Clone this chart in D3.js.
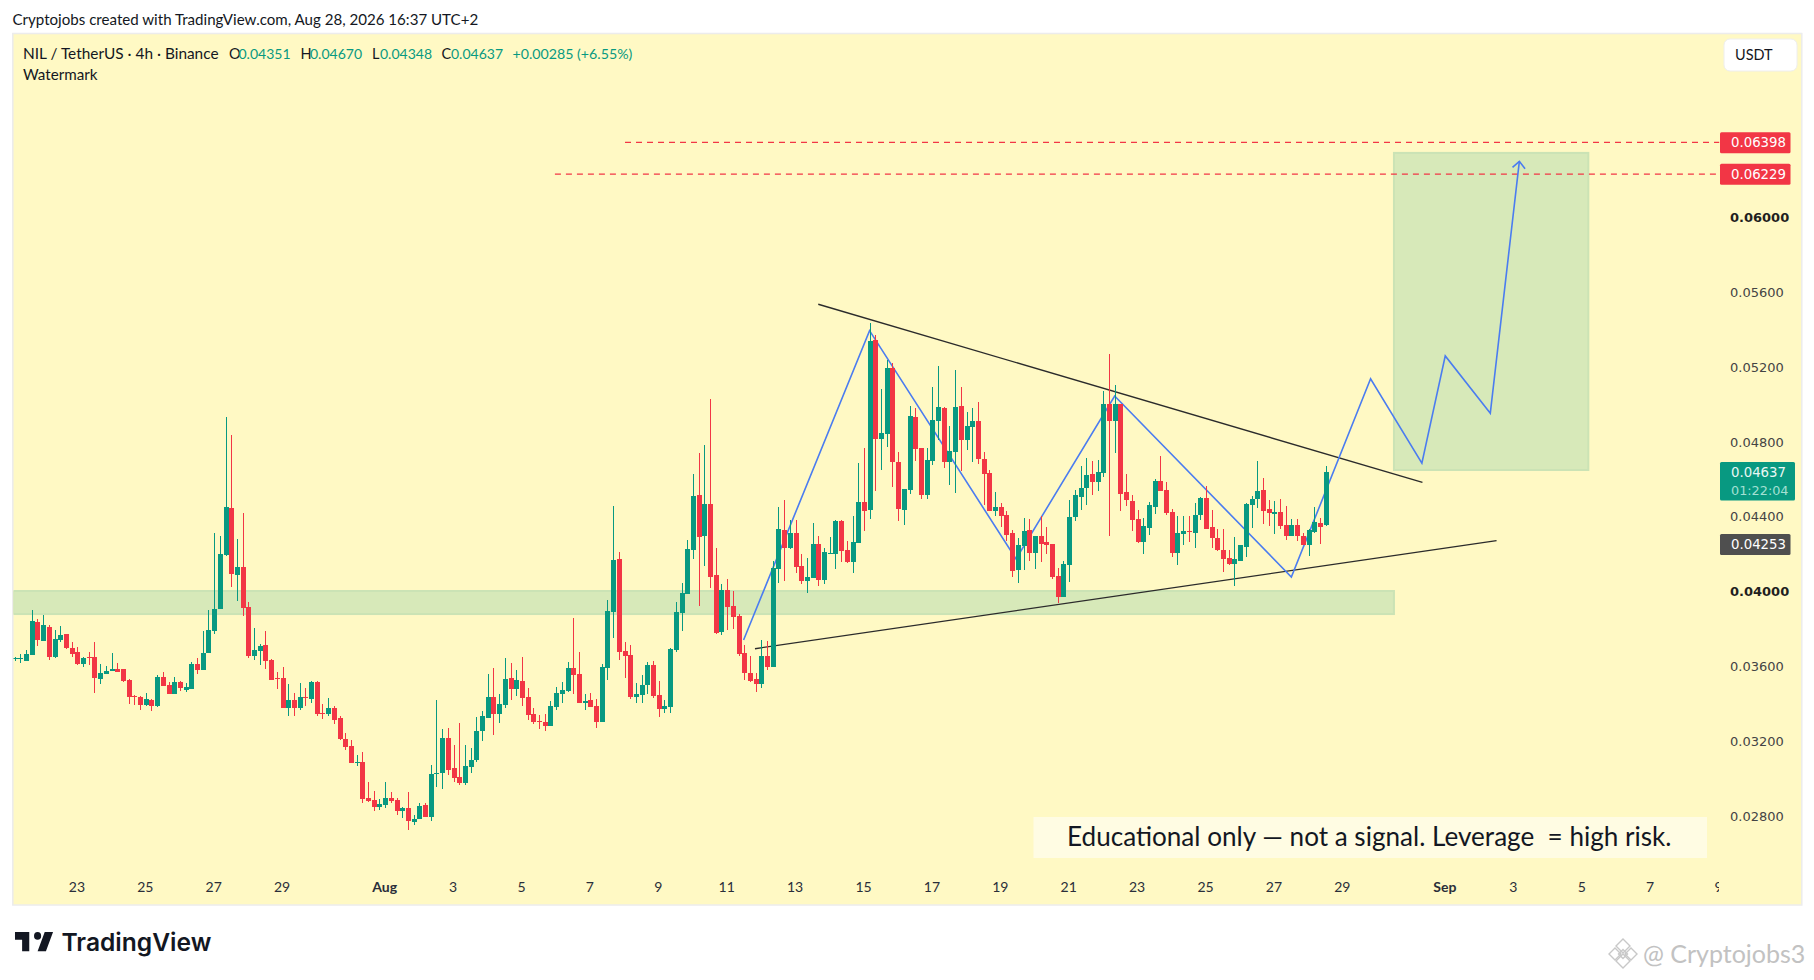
<!DOCTYPE html>
<html>
<head>
<meta charset="utf-8">
<title>NIL / TetherUS</title>
<script src="https://cdn.jsdelivr.net/npm/d3@7"></script>
<style>
html,body{margin:0;padding:0;background:#fff;}
svg{display:block;}
text{white-space:pre;}
</style>
</head>
<body>
<svg id="c" width="1814" height="980"></svg>
<script>
// Prices are listed in units of 0.00001 USDT
const opens = [
3639,3639,3628,3660,3835,3735,3808,3649,3738,3770,
3696,3674,3612,3648,3648,3532,3559,3573,3584,3584,
3525,3439,3434,3393,3418,3388,3541,3498,3452,3514,
3473,3479,3610,3580,3671,3788,3902,4192,4443,4087,
4128,3915,3655,3681,3712,3632,3535,3535,3377,3418,
3377,3434,3425,3514,3349,3345,3375,3322,3210,3172,
3083,3087,2895,2884,2848,2859,2895,2884,2827,2841,
2768,2784,2857,2795,3025,3030,3215,3055,3007,2973,
3060,3098,3252,3322,3434,3343,3391,3535,3477,3519,
3434,3343,3306,3300,3279,3381,3450,3466,3589,3557,
3404,3418,3386,3300,3591,3888,4171,3680,3658,3434,
3445,3498,3605,3445,3370,3381,3685,3883,3984,4219,
4513,4294,4465,4085,3781,4005,3920,3867,3669,3562,
3530,3503,3653,3594,4118,4326,4230,4310,4134,4053,
4069,4251,4059,4198,4198,4374,4219,4155,4256,4475,
4433,5340,4812,4838,5191,4689,4433,4539,4929,4764,
4513,4694,4908,4977,4689,4742,4988,4806,4876,4908,
4705,4630,4427,4449,4406,4310,4112,4240,4326,4203,
4294,4262,4251,4080,3968,4139,4395,4502,4550,4625,
4582,4630,4999,4908,4999,4529,4481,4385,4262,4336,
4449,4587,4539,4422,4203,4304,4320,4310,4406,4497,
4342,4283,4219,4176,4144,4160,4235,4459,4491,4539,
4438,4411,4422,4352,4294,4353,4294,4246,4315,4363,
4351];
const closes = [
3644,3642,3664,3840,3740,3819,3649,3744,3765,3697,
3665,3612,3644,3644,3537,3562,3573,3584,3569,3521,
3436,3436,3393,3423,3388,3541,3495,3452,3514,3482,
3487,3610,3580,3669,3792,3904,4198,4449,4093,4128,
3911,3655,3685,3706,3628,3527,3532,3377,3418,3377,
3434,3430,3514,3345,3345,3375,3313,3212,3169,3083,
3089,2891,2880,2848,2863,2895,2880,2827,2841,2774,
2782,2852,2795,3023,3028,3215,3046,3001,2973,3066,
3098,3252,3333,3434,3343,3397,3530,3477,3525,3430,
3338,3300,3300,3279,3386,3455,3471,3589,3552,3404,
3413,3381,3300,3594,3893,4166,3676,3655,3434,3450,
3498,3605,3439,3370,3386,3690,3888,3989,4224,4507,
4288,4465,4077,3776,4005,3915,3861,3664,3562,3519,
3503,3653,3594,4123,4331,4230,4310,4128,4053,4075,
4251,4059,4208,4203,4374,4214,4155,4262,4475,4427,
5335,4812,4842,5191,4689,4438,4545,4935,4758,4513,
4700,4913,4983,4689,4748,4983,4806,4881,4908,4705,
4625,4427,4449,4401,4299,4107,4246,4320,4203,4294,
4251,4246,4075,3968,4144,4395,4513,4550,4620,4582,
4636,4999,4908,4999,4518,4486,4379,4262,4347,4459,
4587,4534,4417,4203,4310,4320,4315,4406,4497,4331,
4283,4219,4171,4144,4171,4246,4465,4491,4534,4427,
4417,4422,4347,4294,4353,4294,4246,4326,4369,4342,
4637];
const highs = [
3649,3664,3685,3899,3851,3872,3819,3792,3813,3770,
3728,3701,3649,3674,3728,3610,3600,3669,3616,3584,
3528,3445,3439,3455,3423,3552,3568,3514,3541,3519,
3509,3621,3642,3786,3899,4310,4294,4929,4833,4278,
4417,3941,3802,3717,3786,3637,3568,3594,3503,3455,
3509,3482,3519,3519,3397,3429,3386,3333,3242,3204,
3124,3140,2980,2932,2889,2980,2927,2895,2848,2927,
2804,2868,2868,3071,3418,3263,3268,3178,3295,3178,
3162,3327,3359,3557,3589,3450,3642,3616,3578,3648,
3482,3375,3338,3343,3413,3487,3514,3621,3856,3674,
3450,3455,3423,3610,3952,4454,4208,3728,3712,3509,
3552,3621,3626,3519,3418,3696,3941,4043,4272,4625,
4737,4780,5025,4230,4037,4064,4000,3877,3712,3653,
3562,3738,3733,4160,4449,4486,4379,4379,4198,4176,
4363,4294,4228,4288,4379,4379,4267,4401,4684,4764,
5431,5367,5079,5234,5218,4742,4545,4988,4977,4764,
4764,5089,5202,4983,4881,5180,5089,4956,4977,5009,
4742,4646,4529,4470,4427,4326,4283,4390,4385,4294,
4401,4342,4251,4123,4160,4486,4539,4668,4710,4694,
4700,5068,5266,5100,4999,4625,4513,4433,4390,4475,
4598,4721,4582,4438,4401,4401,4401,4470,4502,4561,
4433,4331,4331,4219,4288,4246,4470,4507,4694,4603,
4486,4481,4491,4454,4385,4385,4310,4331,4449,4390,
4670];
const lows = [
3628,3617,3628,3660,3708,3735,3633,3644,3730,3692,
3649,3607,3596,3607,3457,3505,3559,3573,3569,3516,
3398,3393,3366,3388,3361,3382,3495,3452,3452,3468,
3463,3479,3559,3580,3671,3772,3902,4189,4023,3948,
3868,3644,3633,3607,3585,3527,3479,3377,3334,3334,
3366,3388,3404,3334,3318,3334,3292,3206,3153,3083,
3067,2870,2875,2827,2832,2843,2870,2806,2790,2726,
2752,2784,2795,2774,2955,2944,3019,2982,2964,2964,
3028,3087,3199,3322,3231,3295,3375,3418,3439,3386,
3311,3290,3263,3252,3279,3365,3402,3461,3450,3404,
3365,3381,3268,3300,3525,3749,3632,3535,3423,3402,
3402,3450,3429,3327,3349,3349,3674,3786,3984,4171,
3920,4134,4016,3770,3765,3792,3797,3653,3525,3514,
3461,3482,3578,3594,4043,4053,4224,4096,4037,3989,
4069,4027,4037,4198,4118,4155,4150,4096,4256,4320,
4385,4534,4646,4769,4555,4374,4353,4518,4694,4491,
4491,4673,4806,4657,4566,4523,4641,4753,4689,4678,
4459,4427,4401,4342,4267,4075,4043,4112,4160,4118,
4155,4198,4064,3936,3968,4048,4374,4433,4459,4513,
4534,4609,4294,4737,4427,4454,4320,4256,4198,4299,
4411,4534,4406,4182,4139,4246,4262,4230,4379,4331,
4230,4214,4102,4139,4027,4160,4182,4336,4443,4358,
4347,4304,4331,4272,4294,4267,4246,4187,4310,4251,
4348];

// Axis ticks
const priceTicks = [0.028,0.032,0.036,0.040,0.044,0.048,0.052,0.056,0.060];
const boldPrices = [0.040,0.060];
const dayTicks = [[6,23],[6,25],[6,27],[6,29],[7,1],[7,3],[7,5],[7,7],[7,9],[7,11],[7,13],[7,15],[7,17],[7,19],[7,21],[7,23],[7,25],[7,27],[7,29],[8,1],[8,3],[8,5],[8,7],[8,9]];

// Drawings: [candle index, price]
const pathBars   = [127.8,149.9,175.6,192.9,223.9,237.8,246.8,250.9,258.8,263.9];
const pathPrices = [0.03738,0.05390,0.04171,0.05041,0.04075,0.05133,0.04683,0.05255,0.04949,0.06294];
const arrowBars   = [262.7,263.9,264.9];
const arrowPrices = [0.06262,0.06294,0.06255];
const upperBars = [140.9,246.9],  upperPrices = [0.05531,0.04580];
const lowerBars = [129.8,259.9],  lowerPrices = [0.03692,0.04269];
const targetLevels = [0.06398,0.06229];
const targetStarts = [107,94.7];
const levelEndBar = 299;
const boxBars = [241.9,276.0], boxPrices = [0.06339,0.04646];
const bandBars = [-0.35,241.9], bandPrices = [0.04000,0.03877];

const lastPrice = 0.04637, countdown = "01:22:04", markPrice = 0.04253;
const creditText = "Cryptojobs created with TradingView.com, Aug 28, 2026 16:37 UTC+2";
const noteText = "Educational only \u2014 not a signal. Leverage  = high risk.";

const GREEN="#089981", RED="#F23645", BG="#FFF9C4", ZONE="#D7E9B9", ZONEB="#CBE3B5";
const SANS="Lato, 'Noto Sans', sans-serif", AX="'DejaVu Sans', sans-serif";

const svg = d3.select("#c");
const H4 = 4*3600*1000;
const firstBar = Date.UTC(2026,6,21,5);
const barDate = i => new Date(firstBar + i*H4);

const x = d3.scaleUtc()
  .domain([new Date(Date.UTC(2026,6,23)), new Date(Date.UTC(2026,8,9))])
  .range([76.4, 76.4+48*34.2]);
const y = d3.scaleLinear().domain([0.04,0.06]).range([591,216.4]);
const px = i => x(barDate(i));
const pp = v => y(v/1e5);

// Panel
svg.append("rect").attr("x",12.8).attr("y",33.5).attr("width",1789).attr("height",871.5)
  .attr("fill",BG).attr("stroke","#ececec").attr("stroke-width",1.5);

// Zones
function zone(bars,prices,sel){
  sel.append("rect")
    .attr("x",px(bars[0])).attr("y",y(prices[0]))
    .attr("width",px(bars[1])-px(bars[0])).attr("height",y(prices[1])-y(prices[0]))
    .attr("fill",ZONE).attr("stroke",ZONEB).attr("stroke-width",2);
}
const clip = svg.append("defs").append("clipPath").attr("id","pane").append("rect")
  .attr("x",13.5).attr("y",34).attr("width",1706).attr("height",870);
const pane = svg.append("g").attr("clip-path","url(#pane)");
zone(bandBars,bandPrices,pane);
zone(boxBars,boxPrices,pane);

// Target levels
targetLevels.forEach((v,k)=>{
  pane.append("line")
    .attr("x1",px(targetStarts[k])).attr("x2",px(levelEndBar))
    .attr("y1",y(v)+0.6).attr("y2",y(v)+0.6)
    .attr("stroke",RED).attr("stroke-width",1.2).attr("stroke-dasharray","6,5");
});

// Drawings
const ln = d3.line().x(d=>px(d[0])).y(d=>y(d[1]));
const zip=(a,b)=>a.map((v,i)=>[v,b[i]]);
[[upperBars,upperPrices],[lowerBars,lowerPrices]].forEach(([a,b])=>{
  pane.append("path").attr("d",ln(zip(a,b))).attr("fill","none")
    .attr("stroke","#2b2b2b").attr("stroke-width",1.4);
});
pane.append("path").attr("d",ln(zip(pathBars,pathPrices))).attr("fill","none")
  .attr("stroke","#4a7cf0").attr("stroke-width",1.6).attr("stroke-linejoin","miter");
pane.append("path").attr("d",ln(zip(arrowBars,arrowPrices))).attr("fill","none")
  .attr("stroke","#4a7cf0").attr("stroke-width",1.6);

// Candles
const bars = opens.map((o,i)=>({i,o,c:closes[i],h:highs[i],l:lows[i]}));
const cg = pane.append("g").attr("shape-rendering","crispEdges");
const col = d=>d.c>=d.o?GREEN:RED;
cg.selectAll("rect.w").data(bars).join("rect").attr("class","w")
  .attr("x",d=>Math.round(px(d.i)-0.5)).attr("width",1)
  .attr("y",d=>pp(d.h)).attr("height",d=>pp(d.l)-pp(d.h))
  .attr("fill",col);
cg.selectAll("rect.b").data(bars).join("rect").attr("class","b")
  .attr("x",d=>Math.round(px(d.i)-0.5)-2).attr("width",5)
  .attr("y",d=>Math.round(pp(Math.max(d.o,d.c))))
  .attr("height",d=>Math.max(1,Math.round(pp(Math.min(d.o,d.c)))-Math.round(pp(Math.max(d.o,d.c)))))
  .attr("fill",col);

// Note box
svg.append("rect").attr("x",1033.5).attr("y",817).attr("width",673.5).attr("height",41).attr("fill","#FFFCE3");
svg.append("text").attr("x",1067).attr("y",846).attr("font-family",SANS).attr("font-size",26.1)
  .attr("fill","#131722").text(noteText);

// Price axis
const yAxis = d3.axisRight(y).tickValues(priceTicks).tickSize(0).tickPadding(0).tickFormat(d3.format(".5f"));
const yg = svg.append("g").attr("transform","translate(1730,0.7)").call(yAxis);
yg.select(".domain").remove();
yg.selectAll("text").attr("font-family",AX).attr("font-size",13)
  .attr("fill",d=>boldPrices.includes(d)?"#1f1f1f":"#444")
  .attr("font-weight",d=>boldPrices.includes(d)?"700":"400");

// Time axis
const dayDates = dayTicks.map(([m,d])=>new Date(Date.UTC(2026,m,d)));
const fmt = d=> d.getUTCDate()===1 ? d3.utcFormat("%b")(d) : String(d.getUTCDate());
const xAxis = d3.axisBottom(x).tickValues(dayDates).tickSize(0).tickPadding(0).tickFormat(fmt);
const xClip = svg.append("defs").append("clipPath").attr("id","xa").append("rect")
  .attr("x",13).attr("y",870).attr("width",1706).attr("height",34);
const xgw = svg.append("g").attr("clip-path","url(#xa)");
const xg = xgw.append("g").attr("transform","translate(0,882.5)").call(xAxis);
xg.select(".domain").remove();
xg.selectAll("text").attr("font-family",SANS).attr("font-size",14).attr("fill","#2a2e39")
  .attr("font-weight",d=>d.getUTCDate()===1?"700":"400");

// Price labels
function tag(v,txt,fill,h,w){
  const yy=y(v)+0.8;
  svg.append("rect").attr("x",1720).attr("y",yy-h/2).attr("width",w).attr("height",h).attr("rx",1.5).attr("fill",fill);
  svg.append("text").attr("x",1731).attr("y",yy).attr("dy","0.36em").attr("font-family",AX).attr("font-size",13.3).attr("fill","#fff").text(txt);
}
const f5=d3.format(".5f");
targetLevels.forEach(v=>tag(v,f5(v),RED,21,70.5));
tag(markPrice,f5(markPrice),"#4f4f4f",21,70.5);
svg.append("rect").attr("x",1720).attr("y",462).attr("width",75).attr("height",38.5).attr("rx",1.5).attr("fill",GREEN);
svg.append("text").attr("x",1731).attr("y",y(lastPrice)+0.8).attr("dy","0.36em").attr("font-family",AX).attr("font-size",13.3).attr("fill","#e8f7f3").text(f5(lastPrice));
svg.append("text").attr("x",1731).attr("y",490.5).attr("dy","0.36em").attr("font-family",AX).attr("font-size",12.8).attr("fill","#a4e0d4").text(countdown);

// USDT button
svg.append("rect").attr("x",1724).attr("y",39).attr("width",73).attr("height",32).attr("rx",6).attr("fill","#fff").attr("stroke","#eeeeee");
svg.append("text").attr("x",1735).attr("y",55).attr("dy","0.36em").attr("font-family",SANS).attr("font-size",14.5).attr("fill","#131722").text("USDT");

// Header
svg.append("text").attr("x",12.5).attr("y",25).attr("font-family",SANS).attr("font-size",15.1).attr("fill","#131722").text(creditText);
const legend=[
 [23,"NIL / TetherUS \u00b7 4h \u00b7 Binance","#131722",15.4],
 [229,"O","#131722",14.5],[238.5,"0.04351",GREEN,14],
 [300.5,"H","#131722",14.5],[310,"0.04670",GREEN,14],
 [372,"L","#131722",14.5],[380,"0.04348",GREEN,14],
 [441.5,"C","#131722",14.5],[451,"0.04637",GREEN,14],
 [512.5,"+0.00285 (+6.55%)",GREEN,14.2]];
svg.selectAll("text.lg").data(legend).join("text").attr("class","lg")
  .attr("x",d=>d[0]).attr("y",58.8).attr("font-family",SANS).attr("font-size",d=>d[3])
  .attr("fill",d=>d[2]).text(d=>d[1]);
svg.append("text").attr("x",23).attr("y",79.8).attr("font-family",SANS).attr("font-size",15.2).attr("fill","#131722").text("Watermark");

// TradingView logo
svg.append("path").attr("d","M14 6H2v6h6v9h6V6zm14 15h-7l6-15h7l-6 15zm-7-9a3 3 0 1 0 0-6 3 3 0 0 0 0 6z")
  .attr("transform","translate(12.6,924.5) scale(1.19,1.27)").attr("fill","#131722");
svg.append("text").attr("x",61.5).attr("y",951).attr("font-family","Inter, sans-serif").attr("font-weight",600).attr("font-size",24.6).attr("letter-spacing",0).attr("fill","#131722").text("TradingView");

// Corner credit
const wm = svg.append("g").attr("fill","none").attr("stroke","#c8c8c8").attr("stroke-width",1.4);
[[1623,946,7],[1623,961,7],[1615,954,6],[1631,954,6],[1623,954,4.5]].forEach(([cx,cy,r])=>{
  wm.append("path").attr("d",`M${cx} ${cy-r}L${cx+r} ${cy}L${cx} ${cy+r}L${cx-r} ${cy}Z`);
});
svg.append("text").attr("x",1643).attr("y",963).attr("font-family",SANS).attr("font-size",25).attr("fill","#c2c2c2").text("@ Cryptojobs3");
</script>
</body>
</html>
